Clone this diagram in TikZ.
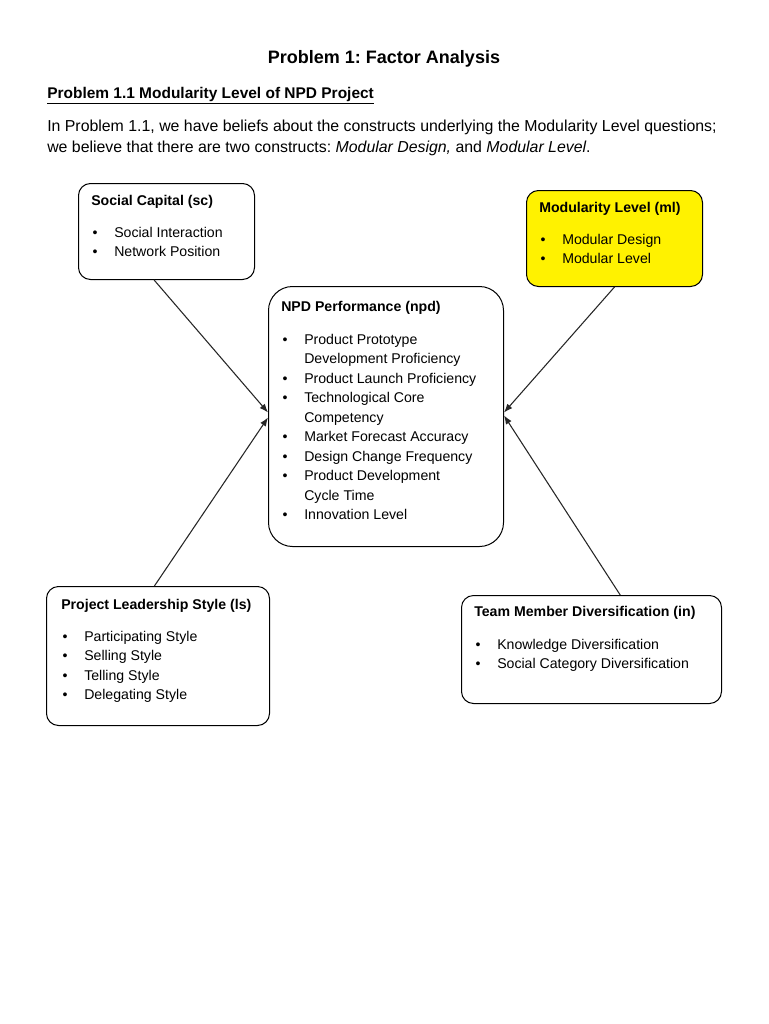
\documentclass[tikz,border=0pt]{standalone}
\usepackage{fontspec}
\setmainfont{Liberation Sans}
\usetikzlibrary{arrows.meta,calc}
\frenchspacing
\newcommand{\boxfont}{\fontsize{10.6pt}{14.6pt}\selectfont}
\newcommand{\bul}{\makebox[17.25pt][l]{\hspace{1pt}\textbullet}}
\newcommand{\cont}{\hspace*{17.25pt}}
\begin{document}
\begin{tikzpicture}[x=0.75pt,y=-0.75pt,
  box/.style={draw=black,line width=0.75pt,rounded corners=9pt,anchor=north west,inner sep=0pt},
  btext/.style={anchor=north west,inner sep=0pt,align=left,font=\boxfont},
  arr/.style={draw=black!85,line width=0.8pt,-{Latex[length=6.5pt,width=5pt]}}]
\useasboundingbox[fill=white] (0,0) rectangle (768,1024);

% headings
\node[font=\fontsize{13.5pt}{15pt}\selectfont\bfseries] (title) at (384,59) {Problem 1: Factor Analysis};
\node[anchor=west,inner sep=0pt,font=\fontsize{11.6pt}{14pt}\selectfont\bfseries] (sub) at (47,96) {\underline{Problem 1.1 Modularity Level of NPD Project}};
\node[anchor=north west,inner sep=0pt,align=left,font=\fontsize{11.9pt}{15.75pt}\selectfont] (intro) at (47,119.5)
  {In Problem 1.1, we have beliefs about the constructs underlying the Modularity Level questions;\\
   we believe that there are two constructs: \textit{Modular Design,} and \textit{Modular Level}.};

% boxes
\node[box,minimum width=176*0.75pt,minimum height=96*0.75pt] (sc) at (78,183) {};
\node[box,fill=yellow,minimum width=176*0.75pt,minimum height=96*0.75pt] (ml) at (526,190) {};
\node[box,rounded corners=18pt,minimum width=235*0.75pt,minimum height=260*0.75pt] (npd) at (268,286) {};
\node[box,minimum width=223*0.75pt,minimum height=139*0.75pt] (ls) at (46,586) {};
\node[box,minimum width=260*0.75pt,minimum height=108*0.75pt] (in) at (461,595) {};

% box texts
\node[btext] (sct) at (91,195) {\textbf{Social Capital (sc)}\\[9.4pt]
  \bul Social Interaction\\ \bul Network Position};
\node[btext] (mlt) at (539,202) {\textbf{Modularity Level (ml)}\\[9.4pt]
  \bul Modular Design\\ \bul Modular Level};
\node[btext] (npdt) at (281,301) {\textbf{NPD Performance (npd)}\\[10pt]
  \bul Product Prototype\\ \cont Development Proficiency\\
  \bul Product Launch Proficiency\\
  \bul Technological Core\\ \cont Competency\\
  \bul Market Forecast Accuracy\\
  \bul Design Change Frequency\\
  \bul Product Development\\ \cont Cycle Time\\
  \bul Innovation Level};
\node[btext] (lst) at (61,599) {\textbf{Project Leadership Style (ls)}\\[9.4pt]
  \bul Participating Style\\ \bul Selling Style\\ \bul Telling Style\\ \bul Delegating Style};
\node[btext] (int) at (474,606) {\textbf{Team Member Diversification (in)}\\[10pt]
  \bul Knowledge Diversification\\ \bul Social Category Diversification};

% connectors
\draw[arr] ($(sc.south west)!0.43!(sc.south east)$) -- ($(npd.west)+(0,-4)$);
\draw[arr] (ml.south) -- ($(npd.east)+(0,-4)$);
\draw[arr] ($(ls.north west)!0.484!(ls.north east)$) -- ($(npd.west)+(0,1)$);
\draw[arr] ($(in.north west)!0.61!(in.north east)$) -- ($(npd.east)+(0,-1)$);
\end{tikzpicture}
\end{document}
